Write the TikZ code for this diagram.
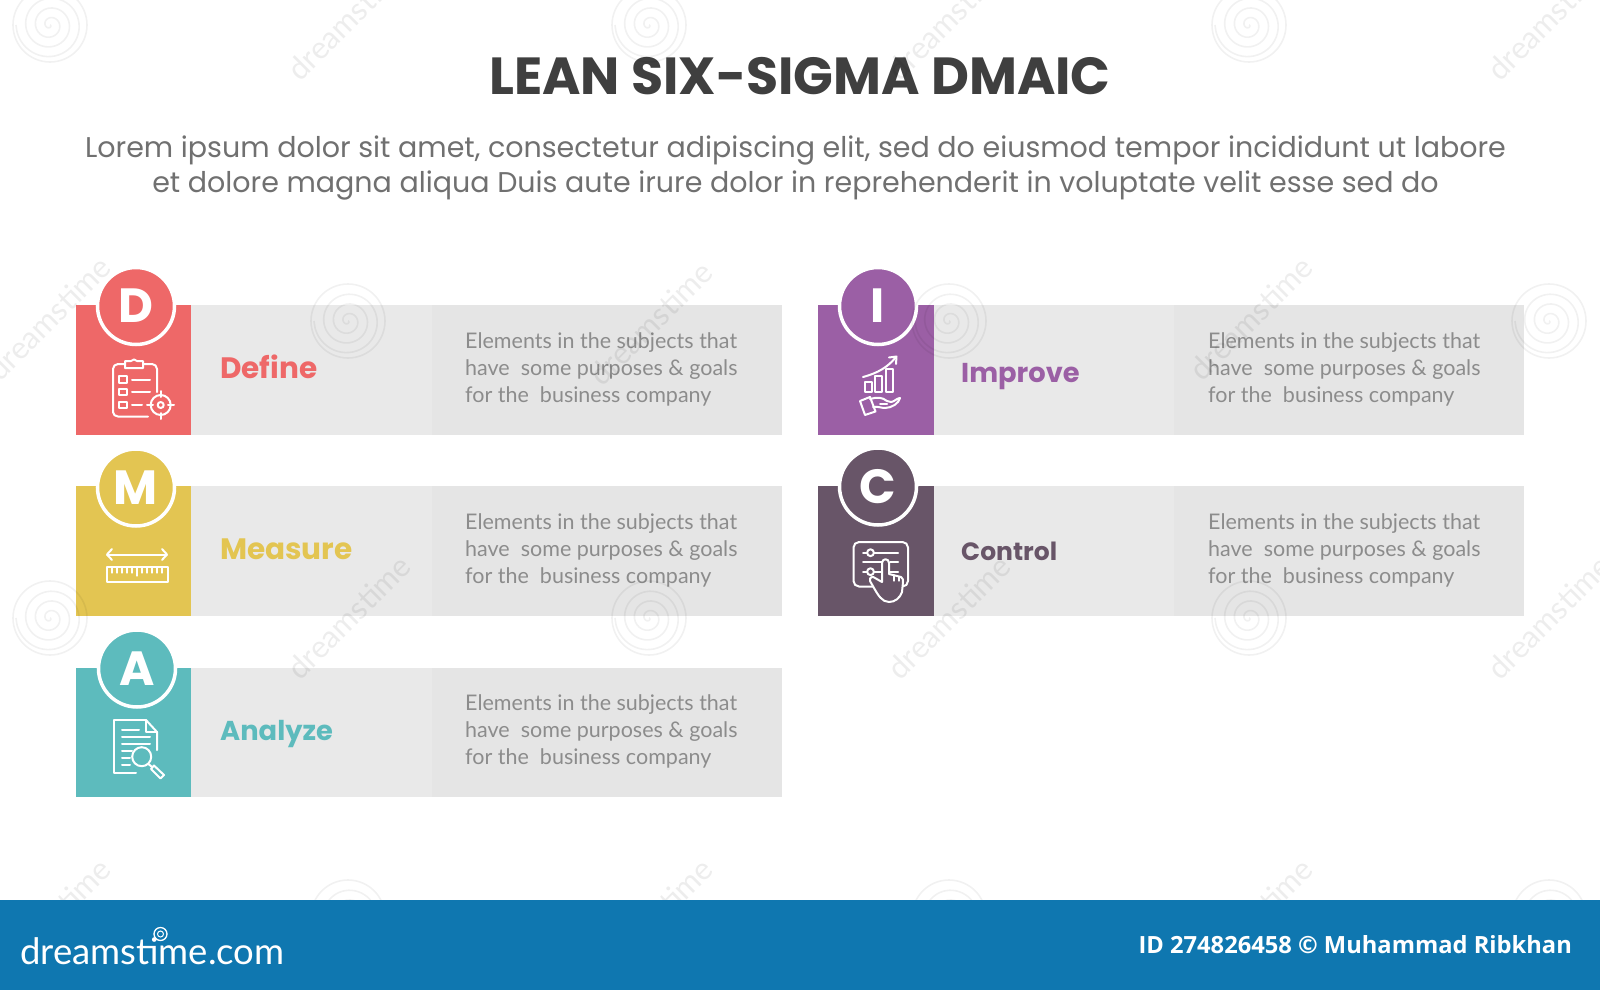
\documentclass[tikz,border=0pt]{standalone}
\usepackage{fontspec}
\setmainfont{Poppins}
\newfontfamily\bodyfont{Lato}
\newfontfamily\idfont{Open Sans}
\definecolor{cD}{HTML}{EE6868}
\definecolor{cM}{HTML}{E3C552}
\definecolor{cA}{HTML}{5DBBBD}
\definecolor{cI}{HTML}{9B5FA5}
\definecolor{cC}{HTML}{685568}
\definecolor{bandL}{HTML}{E9E9E9}
\definecolor{bandR}{HTML}{E5E5E5}
\definecolor{titlec}{HTML}{3F3F3F}
\definecolor{subc}{HTML}{707070}
\definecolor{descc}{HTML}{8C8C8C}
\definecolor{footc}{HTML}{0F77B0}
\newcommand{\fs}[1]{\fontsize{#1}{#1}\selectfont}
\tikzset{
  x=1pt,y=-1pt,
  tile/.style={fill=#1,draw=none},
  badge/.style={circle,fill=#1,draw=white,line width=3.5pt,minimum size=77pt,inner sep=0pt,text=white,font=\fs{48}\bfseries},
  heading/.style={anchor=base west,inner sep=0pt,text=#1,font=\bfseries},
  desc/.style={anchor=west,inner sep=0pt,align=left,text=descc,font=\bodyfont\fontsize{21.5}{27}\selectfont},
  icon/.style={draw=white,line width=2pt,line cap=round,line join=round},
  wmline/.style={draw=black,draw opacity=.055,line width=1.6pt},
  wmtext/.style={rotate=45,text=black,text opacity=.07,font=\bodyfont\fs{31}}
}
\newcommand{\band}[4]{% x, y, divider, right
  \fill[bandL] (#1,#2) rectangle (#3,#2+129.5);
  \fill[bandR] (#3,#2) rectangle (#4,#2+129.5);
}
\newcommand{\wmspiral}[2]{%
  \draw[wmline] plot[domain=0:1260,samples=90,smooth,variable=\t] ({#1+0.027*\t*cos(\t)},{#2+0.027*\t*sin(\t)});
  \draw[wmline] (#1,#2) circle[radius=37];
}
\newcommand{\descr}{Elements in the subjects that\\have\ \ some purposes \& goals\\for the\ \ business company}
\begin{document}
\begin{tikzpicture}
\useasboundingbox (0,0) rectangle (1600,990);
\clip (0,0) rectangle (1600,990);
\fill[white] (0,0) rectangle (1600,990);

% title and subtitle
\node[text=titlec,font=\fs{52.2}\bfseries,inner sep=0pt] (title) at (800,76) {LEAN SIX-SIGMA DMAIC};
\node[text=subc,font=\fs{28.5},inner sep=0pt] (sub1) at (795.5,150.5) {Lorem ipsum dolor sit amet, consectetur adipiscing elit, sed do eiusmod tempor incididunt ut labore};
\node[text=subc,font=\fs{28.5},inner sep=0pt] (sub2) at (795.5,186) {et dolore magna aliqua Duis aute irure dolor in reprehenderit in voluptate velit esse sed do};

% bands
\band{191}{305}{432}{782}
\band{191}{486}{432}{782}
\band{191}{667.5}{432}{782}
\band{933.5}{305}{1174}{1524}
\band{933.5}{486}{1174}{1524}

% tiles
\fill[tile=cD] (76,305) rectangle (191,434.5);
\fill[tile=cM] (76,486) rectangle (191,615.5);
\fill[tile=cA] (76,667.5) rectangle (191,797);
\fill[tile=cI] (818.3,305) rectangle (933.5,434.5);
\fill[tile=cC] (818.3,486) rectangle (933.5,615.5);

% badges
\node[badge=cD] (bD) at (136,306) {D};
\node[badge=cM] (bM) at (136,487.5) {M};
\node[badge=cA] (bA) at (137,668.5) {A};
\node[badge=cI] (bI) at (878,306) {I};
\node[badge=cC] (bC) at (878,486.5) {C};

% headings
\node[heading=cD] (hD) at (220,378) {\fs{29.5}Define};
\node[heading=cM] (hM) at (220,559) {\fs{29.5}Measure};
\node[heading=cA] (hA) at (220,740) {\fs{27.3}Analyze};
\node[heading=cI] (hI) at (961,382) {\fs{27.3}Improve};
\node[heading=cC] (hC) at (961,560) {\fs{25}Control};

% descriptions
\node[desc] (dD) at (465,369) {\descr};
\node[desc] (dM) at (465,550) {\descr};
\node[desc] (dA) at (465,731) {\descr};
\node[desc] (dI) at (1208,369) {\descr};
\node[desc] (dC) at (1208,550) {\descr};

% icon: clipboard with target
\draw[icon] (125,364) -- (118,364) to[out=180,in=90] (113,369) -- (113,412) to[out=270,in=180] (118,416.5) -- (148,416.5);
\draw[icon] (143,364) -- (152,364) to[out=0,in=90] (157,369) -- (157,392);
\draw[icon] (125,368) -- (125,361) -- (131,361) to[out=60,in=120] (137,361) -- (143,361) -- (143,368) -- cycle;
\draw[icon] (119,376) rectangle (127,383);
\draw[icon] (119,389) rectangle (127,395);
\draw[icon] (119,402) rectangle (127,408);
\draw[icon] (132,379.5) -- (150,379.5);
\draw[icon] (132,392) -- (150,392);
\draw[icon] (132,405) -- (142,405);
\draw[icon] (160.7,405) circle[radius=10];
\draw[icon] (160.7,405) circle[radius=3];
\draw[icon] (160.7,391) -- (160.7,397) (160.7,413) -- (160.7,419) (147,405) -- (153,405) (168,405) -- (174,405);

% icon: ruler
\draw[icon] (107,554.5) -- (167,554.5);
\draw[icon] (112,549) -- (107,554.5) -- (112,560);
\draw[icon] (162,549) -- (167,554.5) -- (162,560);
\draw[icon] (106.5,566.5) rectangle (167.5,582);
\foreach \px/\pl in {112/6,117/6,122/6,127/6,132/6,137/9,142/6,147/6,152/6,157/6,162/6}
  \draw[icon,line width=1.2pt] (\px,567) -- (\px,567+\pl);

% icon: document with magnifier
\draw[icon] (146,720) -- (113.5,720) -- (113.5,773) -- (136,773);
\draw[icon] (146,720) -- (157,732) -- (157,750);
\draw[icon] (146,720) -- (146,732) -- (157,732);
\draw[icon] (122,730) -- (139,730);
\draw[icon] (122,737) -- (150,737);
\draw[icon] (122,744) -- (150,744);
\draw[icon] (122,751) -- (132,751);
\draw[icon] (122,758) -- (130,758);
\draw[icon] (122,765) -- (130,765);
\draw[icon] (141.7,756.7) circle[radius=9.5];
\draw[icon] (148.5,764) -- (152,767);
\draw[icon] (151,769) -- (154,765.5) -- (164,775) -- (160.5,778.5) -- cycle;

% icon: growth chart on hand
\draw[icon] (865,392) -- (865,382) -- (871.5,382) -- (871.5,392) -- cycle;
\draw[icon] (875,392) -- (875,375.5) -- (881.5,375.5) -- (881.5,392) -- cycle;
\draw[icon] (886,392) -- (886,368.5) -- (893,368.5) -- (893,392) -- cycle;
\draw[icon] (863,377) .. controls (878,373) and (888,367) .. (896,357);
\draw[icon] (889,357.5) -- (896.5,356.5) -- (896,364);
\draw[icon] (860,401) -- (870,397) -- (875.5,411.5) -- (865,415) -- cycle;
\draw[icon] (870,399) .. controls (877,397) and (882,397) .. (887,401) -- (891,402) .. controls (894,402) and (897,398) .. (900,398) .. controls (899,403) and (892,408) .. (885,408) .. controls (881,408) and (877,406) .. (873,407);
\draw[icon] (880,404) -- (887,404);

% icon: sliders with pointing hand
\draw[icon] (873,586.5) -- (859,586.5) to[out=180,in=270] (853.5,581) -- (853.5,547.5) to[out=90,in=180] (859,542) -- (902.5,542) to[out=0,in=90] (908,547.5) -- (908,581) to[out=270,in=0] (902.5,586.5) -- (902,586.5);
\draw[icon] (863,552.7) -- (867,552.7) (874,552.7) -- (898,552.7);
\draw[icon] (863,561.7) -- (882,561.7) (890,561.7) -- (898,561.7);
\draw[icon] (863,571.7) -- (867,571.7) (874,571.7) -- (882,571.7) (890,571.7) -- (898,571.7);
\draw[icon] (870.5,552.7) circle[radius=3.4];
\draw[icon] (870.5,571.7) circle[radius=3.4];
\draw[icon,fill=cC] (882,582) -- (882,563) .. controls (882,558) and (889,558) .. (889,563) -- (889,574) -- (901,577) .. controls (903,578) and (903,580) .. (903,582) -- (902,592) .. controls (900,598) and (895,602) .. (889,602) .. controls (882,602) and (878,595) .. (874,588) -- (870,581) .. controls (869,577) and (873,576) .. (875,578) -- cycle;
\draw[icon,line width=1.2pt] (894,575) -- (894,581) (899,576.5) -- (899,581);

% watermark
\wmspiral{50}{25}\wmspiral{649}{25}\wmspiral{1249}{25}
\wmspiral{348}{321}\wmspiral{949}{321}\wmspiral{1549}{321}
\wmspiral{50}{618}\wmspiral{649}{618}\wmspiral{1249}{618}
\wmspiral{348}{917}\wmspiral{949}{917}\wmspiral{1549}{917}
\node[wmtext] (w1) at (349,18) {dreamstime};
\node[wmtext] (w2) at (949,18) {dreamstime};
\node[wmtext] (w3) at (1549,18) {dreamstime};
\node[wmtext] (w4) at (49,318) {dreamstime};
\node[wmtext] (w5) at (651,323) {dreamstime};
\node[wmtext] (w6) at (1251,318) {dreamstime};
\node[wmtext] (w7) at (349,617) {dreamstime};
\node[wmtext] (w8) at (949,617) {dreamstime};
\node[wmtext] (w9) at (1549,617) {dreamstime};
\node[wmtext] (w10) at (49,920) {dreamstime};
\node[wmtext] (w11) at (651,920) {dreamstime};
\node[wmtext] (w12) at (1251,920) {dreamstime};

% footer
\fill[footc] (0,900) rectangle (1600,990);
\node[anchor=base west,inner sep=0pt,text=white,font=\bodyfont\fs{36.5}] (logo) at (20,964) {dreamstime.com};
\draw[white,line width=1.3pt] (160.5,934) circle[radius=6.5];
\draw[white,line width=1pt] (160.5,934) circle[radius=3];
\node[anchor=base east,inner sep=0pt,text=white,font=\idfont\bfseries\fs{23.7}] (idt) at (1572,953) {ID 274826458 © Muhammad Ribkhan};
\end{tikzpicture}
\end{document}
